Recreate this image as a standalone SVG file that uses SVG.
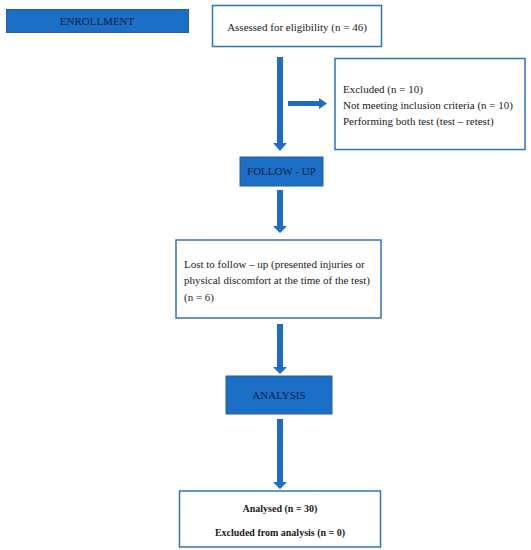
<svg xmlns="http://www.w3.org/2000/svg" width="531" height="550" viewBox="0 0 531 550">
<style>
.bg{fill:#ffffff}
.hdr{fill:#1b6fc6;stroke:#2a5f9e;stroke-width:1}
.box{fill:#ffffff;stroke:#2e74b8;stroke-width:1.5}
.t{font-family:"Liberation Serif","DejaVu Serif",serif;font-size:11px;fill:#1a1a1a}
.th{font-family:"Liberation Serif","DejaVu Serif",serif;font-size:11px;fill:#10213f}
.tb{font-family:"Liberation Serif","DejaVu Serif",serif;font-size:10px;font-weight:bold;fill:#1a1a1a}
.arr{fill:#1f6cc0}
</style>
<rect class="bg" x="0" y="0" width="531" height="550"/>
<g id="connectors">
  <polygon class="arr" points="277,57 283,57 283,143 287,143 280,151 273,143 277,143"/>
  <polygon class="arr" points="288,101 319,101 319,98 327,103.5 319,109 319,106 288,106"/>
  <polygon class="arr" points="277,190 283,190 283,226 287,226 280,233 273,226 277,226"/>
  <polygon class="arr" points="277,324 283,324 283,367 287,367 280,374 273,367 277,367"/>
  <polygon class="arr" points="277,419 283,419 283,482 287,482 280,489 273,482 277,482"/>
</g>
<g id="enrollment">
  <rect class="hdr" x="6.5" y="9.5" width="182" height="23"/>
  <text class="th" x="97" y="25" text-anchor="middle">ENROLLMENT</text>
</g>
<g id="assessed">
  <rect class="box" x="212.5" y="5.5" width="169" height="41"/>
  <text class="t" x="297" y="31" text-anchor="middle">Assessed for eligibility (n = 46)</text>
</g>
<g id="excluded">
  <rect class="box" x="335" y="58.5" width="190" height="91"/>
  <text class="t" x="343" y="93">Excluded (n = 10)</text>
  <text class="t" x="343" y="109">Not meeting inclusion criteria (n = 10)</text>
  <text class="t" x="343" y="125">Performing both test (test – retest)</text>
</g>
<g id="followup">
  <rect class="hdr" x="240" y="157" width="83" height="29"/>
  <text class="th" x="281.5" y="175" text-anchor="middle">FOLLOW - UP</text>
</g>
<g id="lost">
  <rect class="box" x="176" y="240" width="205" height="78"/>
  <text class="t" x="184" y="268">Lost to follow – up (presented injuries or</text>
  <text class="t" x="184" y="284">physical discomfort at the time of the test)</text>
  <text class="t" x="184" y="301">(n = 6)</text>
</g>
<g id="analysis">
  <rect class="hdr" x="226" y="376" width="106" height="38"/>
  <text class="th" x="279" y="399" text-anchor="middle">ANALYSIS</text>
</g>
<g id="analysed">
  <rect class="box" x="179.5" y="491" width="201" height="56"/>
  <text class="tb" x="280" y="512" text-anchor="middle">Analysed (n = 30)</text>
  <text class="tb" x="280" y="536" text-anchor="middle">Excluded from analysis (n = 0)</text>
</g>
</svg>
